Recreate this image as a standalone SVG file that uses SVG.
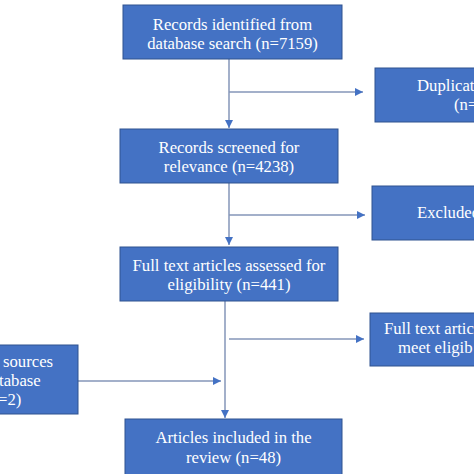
<svg xmlns="http://www.w3.org/2000/svg" width="474" height="474" viewBox="0 0 474 474">
<defs>
<style>
.box{fill:#4472C4;stroke:#2F528F;stroke-width:1}
.t{font-family:"Liberation Serif","Times New Roman",serif;font-size:16.7px;fill:#ffffff;text-anchor:middle}
.ts{font-family:"Liberation Serif","Times New Roman",serif;font-size:16.7px;fill:#ffffff}
.c{stroke:#8596B8;stroke-width:1.5;fill:none;marker-end:url(#ah)}
</style>
<marker id="ah" viewBox="0 0 10 10" refX="10" refY="5" markerWidth="8" markerHeight="8" markerUnits="userSpaceOnUse" orient="auto">
<path d="M0,0 L10,5 L0,10 Z" fill="#4472C4"/>
</marker>
</defs>
<rect width="474" height="474" fill="#ffffff"/>
<g id="connectors">
<line class="c" x1="229" y1="59" x2="229" y2="128"/>
<line class="c" x1="229" y1="92" x2="363" y2="92"/>
<line class="c" x1="229" y1="183" x2="229" y2="245"/>
<line class="c" x1="229" y1="215" x2="365" y2="215"/>
<line class="c" x1="225" y1="301" x2="225" y2="418"/>
<line class="c" x1="229" y1="339" x2="364" y2="339"/>
<line class="c" x1="78" y1="381" x2="221" y2="381"/>
</g>
<g id="n1">
<rect class="box" x="123" y="5" width="219" height="54"/>
<text class="t" x="232.5" y="30">Records identified from</text>
<text class="t" x="232.5" y="49">database search (n=7159)</text>
</g>
<g id="n2">
<rect class="box" x="120" y="129" width="218" height="54"/>
<text class="t" x="229" y="153">Records screened for</text>
<text class="t" x="229" y="172">relevance (n=4238)</text>
</g>
<g id="n3">
<rect class="box" x="120" y="247" width="218" height="54"/>
<text class="t" x="229" y="271">Full text articles assessed for</text>
<text class="t" x="229" y="290">eligibility (n=441)</text>
</g>
<g id="n4">
<rect class="box" x="125" y="419" width="217" height="62"/>
<text class="t" x="233.5" y="443">Articles included in the</text>
<text class="t" x="233.5" y="463">review (n=48)</text>
</g>
<g id="n5">
<rect class="box" x="375" y="68" width="110" height="54"/>
<text class="ts" x="417" y="91">Duplicat</text>
<text class="ts" x="454" y="110">(n=</text>
</g>
<g id="n6">
<rect class="box" x="372" y="186" width="110" height="54"/>
<text class="ts" x="417" y="218">Excluded</text>
</g>
<g id="n7">
<rect class="box" x="370" y="313" width="110" height="53"/>
<text class="ts" x="384" y="334">Full text artic</text>
<text class="ts" x="398" y="353">meet eligib</text>
</g>
<g id="n8">
<rect class="box" x="-5" y="345" width="83" height="69"/>
<text class="ts" x="3" y="367">sources</text>
<text class="ts" x="-1" y="386">tabase</text>
<text class="ts" x="-2" y="405">=2)</text>
</g>
</svg>
